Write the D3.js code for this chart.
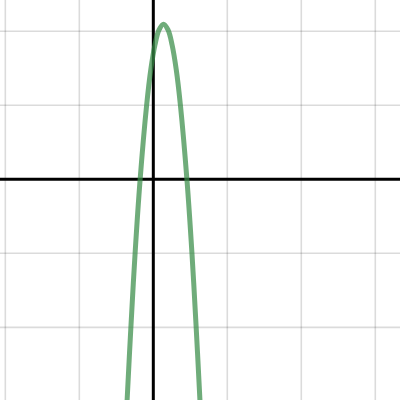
<!DOCTYPE html>
<html>
<head>
<meta charset="utf-8">
<script src="https://cdn.jsdelivr.net/npm/d3@7"></script>
<style>
html,body{margin:0;padding:0;background:#fff;overflow:hidden;}
svg{display:block;}
</style>
</head>
<body>
<div id="chart"></div>
<script>
// Visible window (graph units)
const xDomain = [-2.072, 3.334];
const yDomain = [-2.982, 2.423];
// Grid tick values
const xGridTicks = [-2, -1, 0, 1, 2, 3];
const yGridTicks = [-3, -2, -1, 0, 1, 2];
// Curve points
const curveX = [-0.364, -0.354, -0.303, -0.246, -0.178, -0.090, -0.034, 0.022, 0.077, 0.138, 0.199, 0.254, 0.310, 0.366, 0.454, 0.522, 0.579, 0.630, 0.640];
const curveY = [-3.2, -2.982, -1.996, -0.996, 0, 1.004, 1.482, 1.815, 2.018, 2.096, 2.018, 1.815, 1.482, 1.004, 0, -0.996, -1.996, -2.982, -3.2];

const W = 400, H = 400;
const svg = d3.select("#chart").append("svg").attr("width", W).attr("height", H);
const x = d3.scaleLinear().domain(xDomain).range([0, W]);
const y = d3.scaleLinear().domain(yDomain).range([H, 0]);

// grid
svg.append("g").selectAll("line").data(xGridTicks).join("line")
  .attr("x1", d => x(d)).attr("x2", d => x(d)).attr("y1", 0).attr("y2", H)
  .attr("stroke", "rgba(0,0,0,0.14)").attr("stroke-width", 1.6);
svg.append("g").selectAll("line").data(yGridTicks).join("line")
  .attr("y1", d => y(d)).attr("y2", d => y(d)).attr("x1", 0).attr("x2", W)
  .attr("stroke", "rgba(0,0,0,0.14)").attr("stroke-width", 1.6);

// axes
svg.append("line").attr("x1", 0).attr("x2", W).attr("y1", y(0)).attr("y2", y(0))
  .attr("stroke", "#000").attr("stroke-width", 3);
svg.append("line").attr("x1", x(0)).attr("x2", x(0)).attr("y1", 0).attr("y2", H)
  .attr("stroke", "#000").attr("stroke-width", 3);

// curve
const pts = curveX.map((d, i) => [d, curveY[i]]);
const line = d3.line().x(d => x(d[0])).y(d => y(d[1])).curve(d3.curveCatmullRom.alpha(0.5));
svg.append("path").datum(pts).attr("d", line)
  .attr("fill", "none").attr("stroke", "#388c46").attr("stroke-opacity", 0.72)
  .attr("stroke-width", 5).attr("stroke-linejoin", "round").attr("stroke-linecap", "round");
</script>
</body>
</html>
